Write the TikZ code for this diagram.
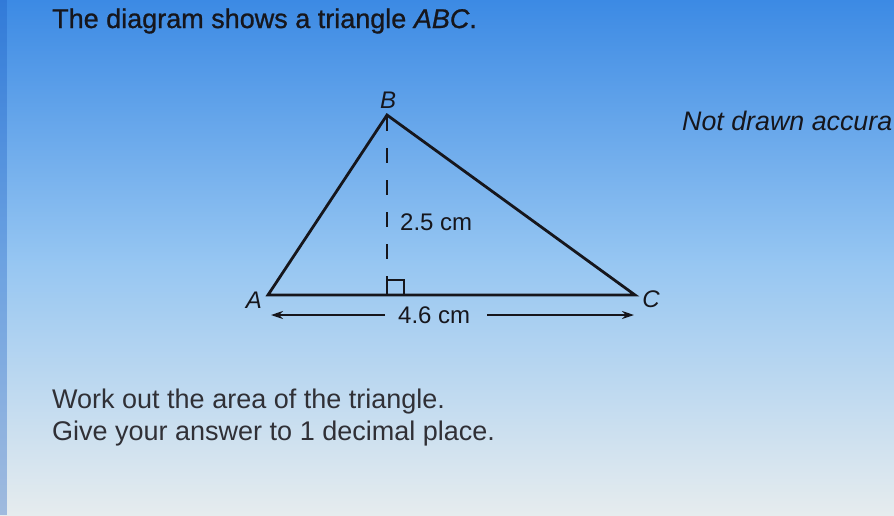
\documentclass[tikz,border=0pt]{standalone}
\usepackage{fontspec}
\setmainfont{Liberation Sans}
\newfontfamily\heavyfont[FakeBold=0.9]{Liberation Sans}
\usetikzlibrary{arrows.meta}
\definecolor{ink}{RGB}{22,22,28}
\definecolor{txt}{RGB}{48,48,54}
\definecolor{bgA}{RGB}{60,138,228}
\definecolor{bgB}{RGB}{150,198,242}
\definecolor{bgC}{RGB}{230,236,238}
\definecolor{edgeblue}{RGB}{30,95,195}
\begin{document}
\begin{tikzpicture}[x=1pt,y=-1pt,
  side/.style={draw=ink,line width=2.8pt,line join=miter},
  heightline/.style={draw=ink,line width=2.8pt,dash pattern=on 15pt off 17pt,dash phase=31pt},
  sqmark/.style={draw=ink,line width=2.4pt},
  dim/.style={draw=ink,line width=2.2pt,-{Stealth[length=12pt,width=8pt]}},
  big/.style={font=\fontsize{27}{32}\selectfont,inner sep=0pt},
  lab/.style={font=\fontsize{24}{28}\selectfont\itshape,text=ink,inner sep=0pt},
  meas/.style={font=\fontsize{24}{28}\selectfont,text=ink,inner sep=0pt}
]
\useasboundingbox (0,0) rectangle (894,515);
\clip (0,0) rectangle (894,515);
% background
\shade[top color=bgA,bottom color=bgB] (0,0) rectangle (894,262);
\shade[top color=bgB,bottom color=bgC] (0,261) rectangle (894,515);
\fill[edgeblue,opacity=0.35] (0,0) rectangle (7,515);

% texts
\node[big,text=ink,anchor=base west,font=\fontsize{27}{32}\heavyfont] (title) at (52,28) {The diagram shows a triangle \textit{ABC}.};
\node[font=\fontsize{26.8}{30}\selectfont\itshape,text=ink,inner sep=0pt,anchor=base west] (note) at (682,130) {Not drawn accura};
\node[big,text=txt,anchor=base west] (q1) at (52,408) {Work out the area of the triangle.};
\node[big,text=txt,anchor=base west] (q2) at (52,440) {Give your answer to 1 decimal place.};

% vertices
\coordinate (A) at (268,295);
\coordinate (B) at (387,115);
\coordinate (C) at (635,295);
\coordinate (F) at (387,295);
\coordinate (Ftop) at (387,280);

% vertex labels
\node[lab] (lA) at (254,300) {A};
\node[lab] (lB) at (388,100) {B};
\node[lab] (lC) at (651,299) {C};

% triangle
\draw[side] (A) -- (B) -- (C) -- cycle;
% height
\draw[heightline] (B) -- (Ftop);
\draw[sqmark] (F) -- (Ftop) -- ++(17,0) coordinate (sqR) -- ++(0,15);

% measures
\node[meas,anchor=base west] (h) at (400,230) {2.5 cm};
\node[meas,anchor=base west] (w) at (398,323) {4.6 cm};
\coordinate (dl) at (385,315);
\coordinate (tl) at (271,315);
\coordinate (dr) at (487,315);
\coordinate (tr) at (634,315);
\draw[dim] (dl) -- (tl);
\draw[dim] (dr) -- (tr);
\end{tikzpicture}
\end{document}
